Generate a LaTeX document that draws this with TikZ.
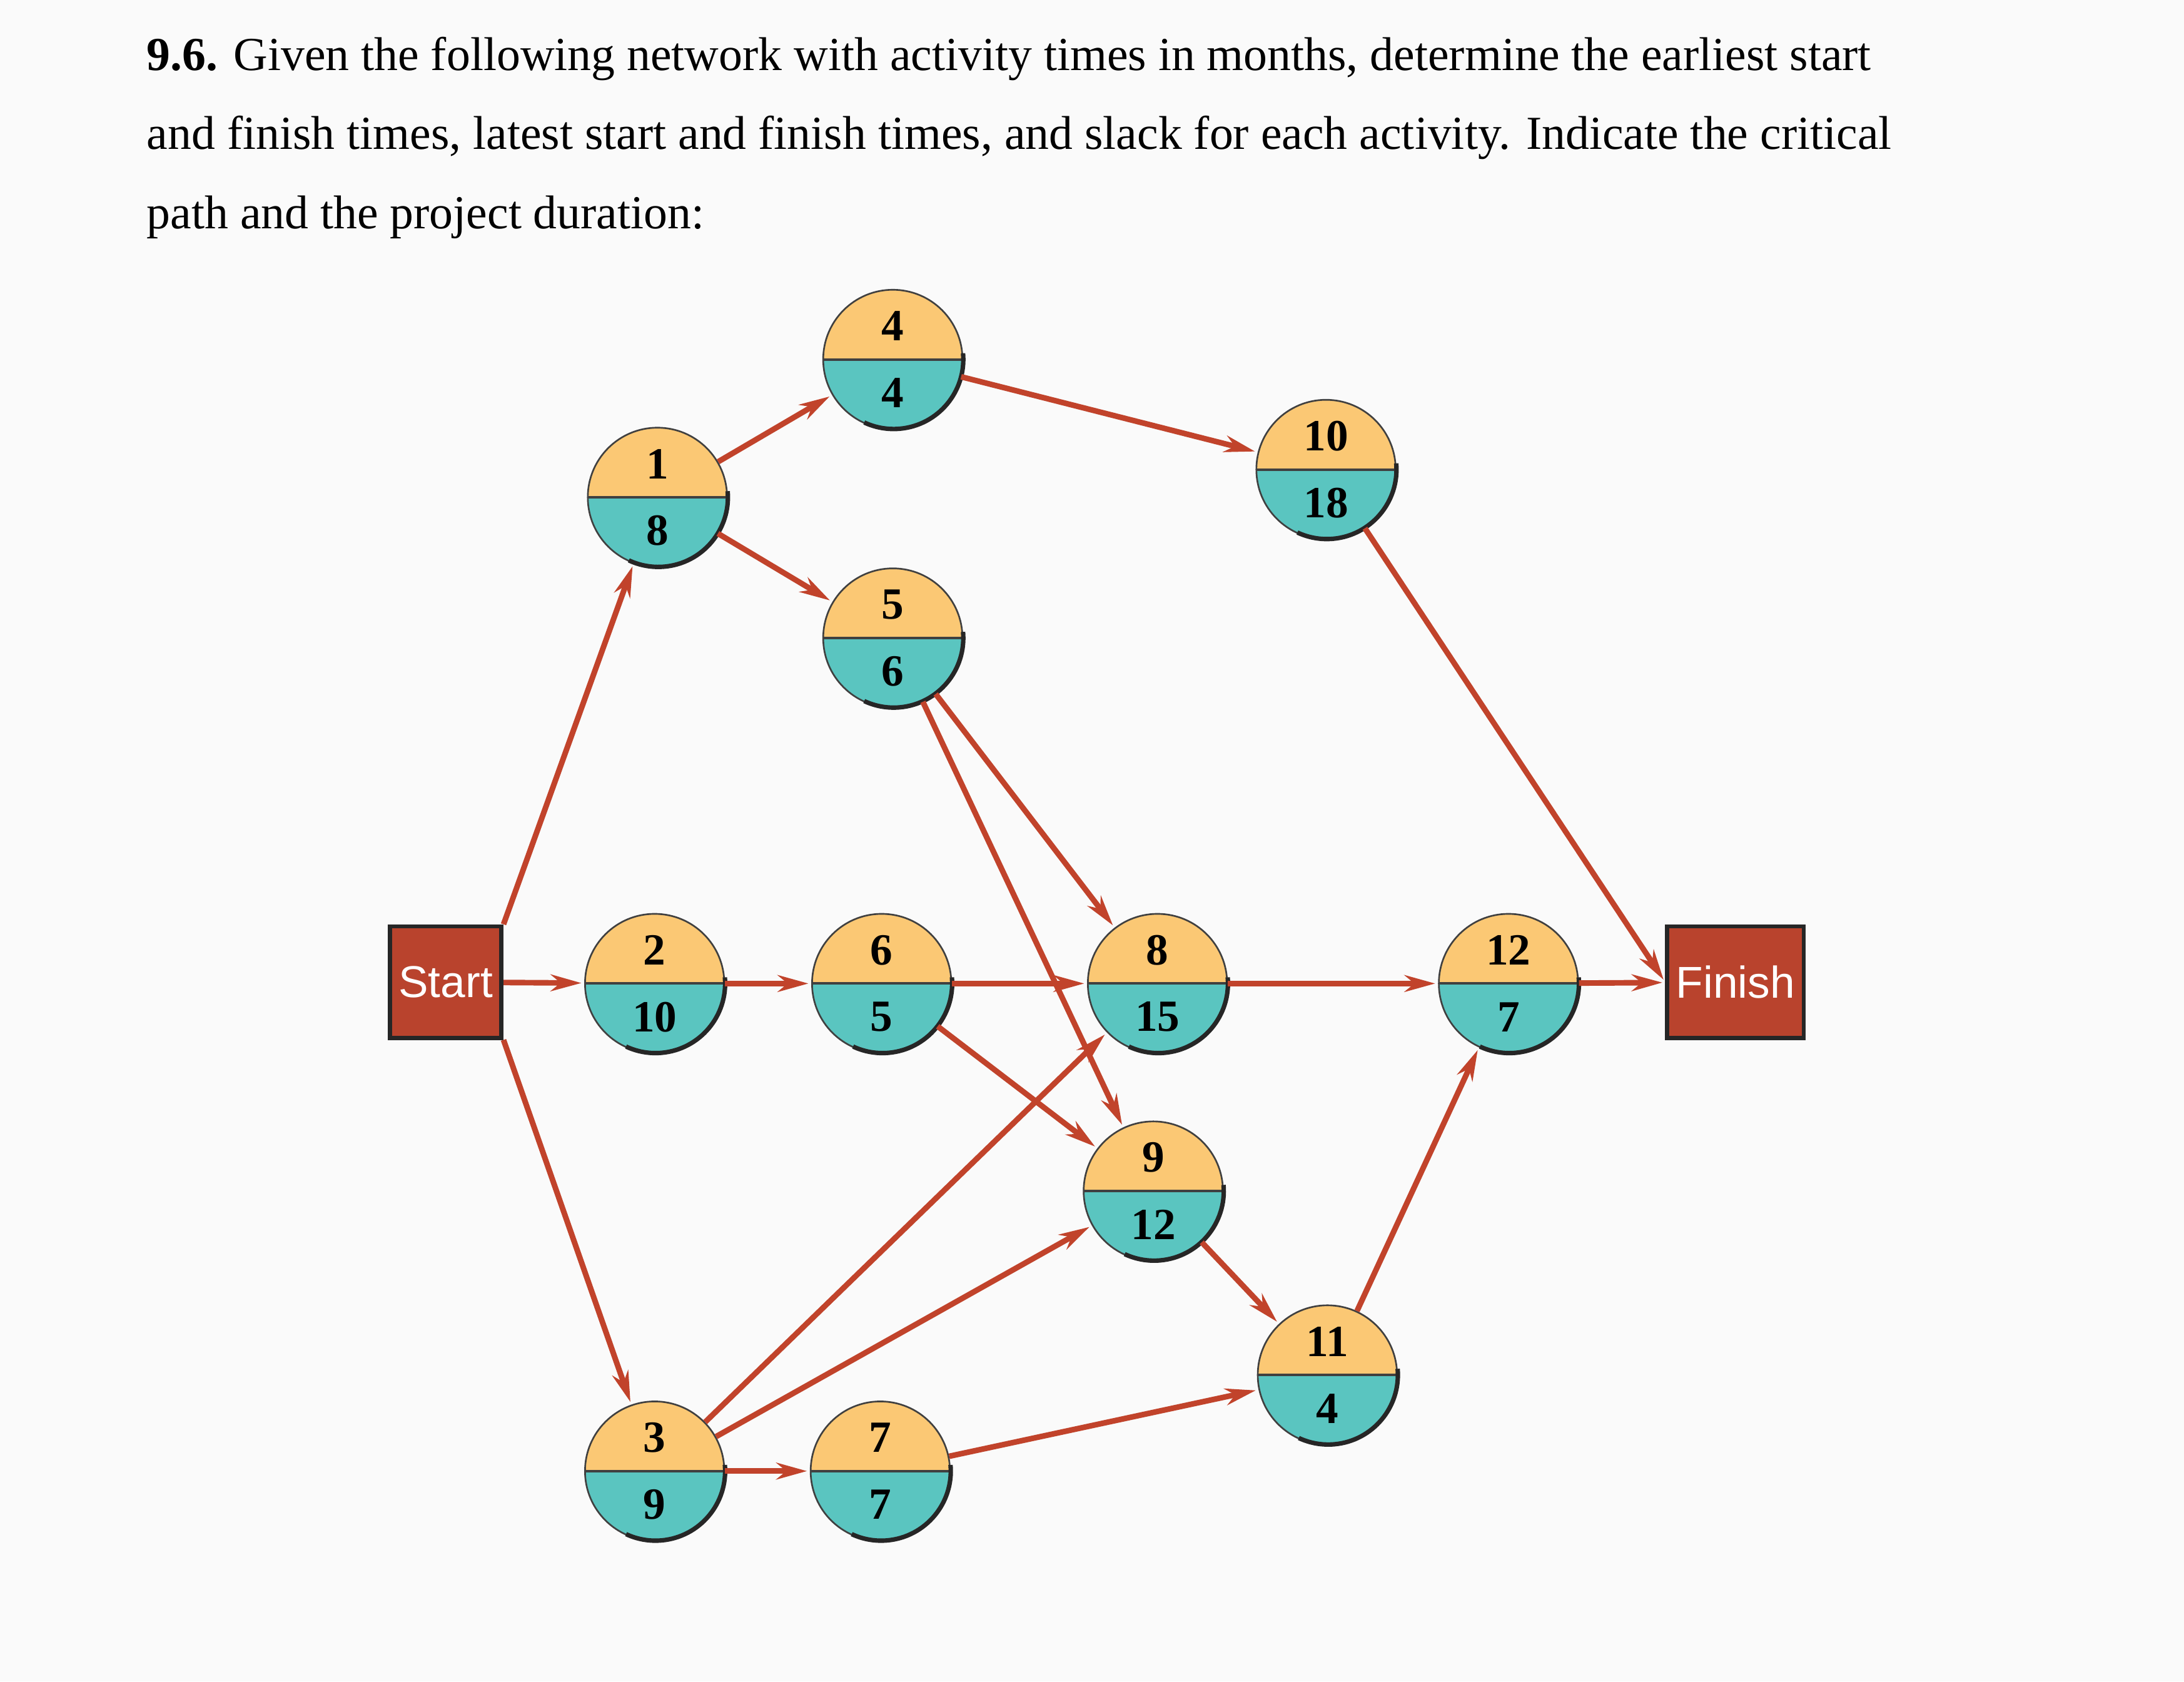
\documentclass[tikz,border=0pt]{standalone}
\usepackage{fontspec}
\setmainfont{Liberation Serif}
\newfontfamily\sansf{Liberation Sans}
\usetikzlibrary{arrows.meta}
\definecolor{yel}{HTML}{FBC874}
\definecolor{tea}{HTML}{5AC5C0}
\definecolor{edg}{HTML}{C1432B}
\definecolor{boxr}{HTML}{B9432D}
\tikzset{
 act/.style={circle,minimum size=50pt,inner sep=0pt,draw=black!75,line width=0.6pt,
  path picture={\fill[yel](path picture bounding box.north west) rectangle (path picture bounding box.east);
  \fill[tea](path picture bounding box.west) rectangle (path picture bounding box.south east);
  \draw[line width=0.9pt](path picture bounding box.west)--(path picture bounding box.east);}},
 num/.style={font=\bfseries\fontsize{16}{16}\selectfont},
 edge/.style={draw=edg,line width=2pt,-{Stealth[length=11pt,width=6pt]},shorten >=1pt},
 term/.style={draw=black!85,line width=1.5pt,fill=boxr,text=white,font=\sansf\fontsize{16}{16}\selectfont,minimum height=40pt,inner sep=1pt},
 hd/.style={anchor=west,font=\fontsize{17}{17}\selectfont,inner sep=0pt}
}
\newcommand{\actnode}[4]{%
 \node[act] (#1) at (#2) {};
 \draw[black!85,line width=1.6pt] (#1.5) arc[start angle=5,end angle=-115,radius=25pt];
 \node[num] at ([yshift=12pt]#1.center) {#3};
 \node[num] at ([yshift=-12pt]#1.center) {#4};}
\begin{document}
\begin{tikzpicture}[x=0.5pt,y=-0.5pt]
\useasboundingbox[fill=white!98!black] (0,0) rectangle (1568,1207);
\node[hd] (h1) at (105,42) {\textbf{9.6.} Given the following network with activity times in months, determine the earliest start};
\node[hd] (h2) at (105,99) {and finish times, latest start and finish times, and slack for each activity. Indicate the critical};
\node[hd] (h3) at (105,156) {path and the project duration:};
\node[term,minimum width=40pt] (S) at (320,705) {Start};
\node[term,minimum width=49pt] (F) at (1246,705) {Finish};
\actnode{n1}{472,357}{1}{8}
\actnode{n2}{470,706}{2}{10}
\actnode{n3}{470,1056}{3}{9}
\actnode{n4}{641,258}{4}{4}
\actnode{n5}{641,458}{5}{6}
\actnode{n6}{633,706}{6}{5}
\actnode{n7}{632,1056}{7}{7}
\actnode{n8}{831,706}{8}{15}
\actnode{n9}{828,855}{9}{12}
\actnode{n10}{952,337}{10}{18}
\actnode{n11}{953,987}{11}{4}
\actnode{n12}{1083,706}{12}{7}
\draw[edge] (S.north east) -- (n1);
\draw[edge] (S) -- (n2);
\draw[edge] (S.south east) -- (n3);
\draw[edge] (n1) -- (n4);
\draw[edge] (n1) -- (n5);
\draw[edge] (n4) -- (n10);
\draw[edge] (n5) -- (n8);
\draw[edge] (n5) -- (n9);
\draw[edge] (n2) -- (n6);
\draw[edge] (n6) -- (n8);
\draw[edge] (n6) -- (n9);
\draw[edge] (n3) -- (n8);
\draw[edge] (n3) -- (n9);
\draw[edge] (n3) -- (n7);
\draw[edge] (n7) -- (n11);
\draw[edge] (n9) -- (n11);
\draw[edge] (n8) -- (n12);
\draw[edge] (n11) -- (n12);
\draw[edge] (n10) -- (F.west);
\draw[edge] (n12) -- (F);
\end{tikzpicture}
\end{document}
